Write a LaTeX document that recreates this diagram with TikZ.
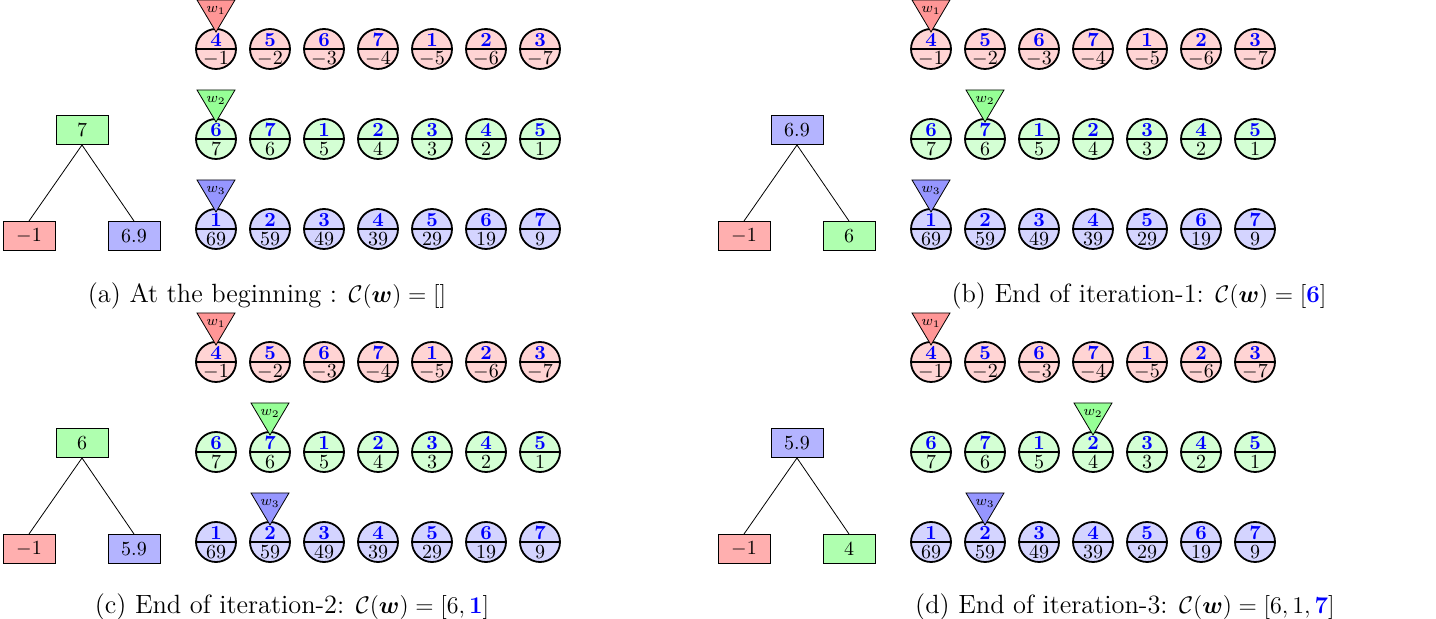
\documentclass[tikz,border=0pt]{standalone}
\usepackage{amsmath,bm}
\definecolor{rT}{RGB}{255,150,150}\definecolor{rC}{RGB}{255,212,212}\definecolor{rB}{RGB}{255,175,175}
\definecolor{gT}{RGB}{150,255,150}\definecolor{gC}{RGB}{212,255,212}\definecolor{gB}{RGB}{175,255,175}
\definecolor{bT}{RGB}{150,150,255}\definecolor{bC}{RGB}{212,212,255}\definecolor{bB}{RGB}{180,180,255}
\tikzset{
 ball/.style={circle,draw,line width=0.9pt,minimum size=20pt,inner sep=0pt},
 topnum/.style={font=\bfseries\fontsize{10}{10}\selectfont,text=blue,inner sep=0pt},
 botnum/.style={font=\fontsize{10}{10}\selectfont,inner sep=0pt},
 tbox/.style={draw,line width=0.5pt,minimum width=26pt,minimum height=14.5pt,inner sep=0pt,font=\normalsize},
 tri/.style={draw,line width=0.4pt},
 captext/.style={font=\fontsize{13.2}{15}\selectfont,inner sep=0pt}
}
\newcommand{\myrow}[5]{% panel, row, y, color, list top/bottom
 \foreach \t/\b [count=\k from 0] in {#5}{
  \node[ball,fill=#4] (c#1#2\k) at (216+54*\k,#3) {};
  \draw[line width=0.9pt] (c#1#2\k.west) -- (c#1#2\k.east);
  \node[topnum] at (216+54*\k,#3-9) {\t};
  \node[botnum] at (216+54*\k,#3+10) {$\b$};
 }}
\newcommand{\mytri}[4]{% col, rowy, color, label
 \draw[tri,fill=#3] (216+54*#1-19,#2-49) -- (216+54*#1+19,#2-49) -- (216+54*#1,#2-17) -- cycle;
 \node[inner sep=0pt,font=\scriptsize] at (216+54*#1,#2-39) {$#4$};}
\newcommand{\mypanel}[8]{% name, xoff, yoff, w2col, w3col, root, rootcol, right col
 \begin{scope}[shift={(#2,#3)}]
  \myrow{#1}{a}{49}{rC}{4/-1,5/-2,6/-3,7/-4,1/-5,2/-6,3/-7}
  \myrow{#1}{b}{139}{gC}{6/7,7/6,1/5,2/4,3/3,4/2,5/1}
  \myrow{#1}{c}{229}{bC}{1/69,2/59,3/49,4/39,5/29,6/19,7/9}
  \mytri{0}{49}{rT}{w_1}
  \mytri{#4}{139}{gT}{w_2}
  \mytri{#5}{229}{bT}{w_3}
  \node[tbox,fill=#7] (r#1) at (82,130) {#6};
  \node[tbox,fill=rB] (l#1) at (29,236) {$-1$};
  \node[tbox,fill=#8] (s#1) at (134,236) {\rtext};
  \draw[line width=0.4pt] (r#1.south) -- (l#1.north);
  \draw[line width=0.4pt] (r#1.south) -- (s#1.north);
 \end{scope}}
\begin{document}
\begin{tikzpicture}[x=0.5pt,y=-0.5pt]
\useasboundingbox (0,0) rectangle (1436,619);
\def\rtext{6.9}\mypanel{A}{0}{0}{0}{0}{7}{gB}{bB}
\def\rtext{6}\mypanel{B}{715}{0}{1}{0}{6.9}{bB}{gB}
\def\rtext{5.9}\mypanel{C}{0}{313}{1}{1}{6}{gB}{bB}
\def\rtext{4}\mypanel{D}{715}{313}{3}{1}{5.9}{bB}{gB}
\node[captext] (capA) at (267,296) {(a) At the beginning : $\mathcal{C}(\bm{w})=[]$};
\node[captext] (capB) at (1139,296) {(b) End of iteration-1: $\mathcal{C}(\bm{w})=[\textcolor{blue}{\mathbf{6}}]$};
\node[captext] (capC) at (292,607) {(c) End of iteration-2: $\mathcal{C}(\bm{w})=[6,\textcolor{blue}{\mathbf{1}}]$};
\node[captext] (capD) at (1125,607) {(d) End of iteration-3: $\mathcal{C}(\bm{w})=[6,1,\textcolor{blue}{\mathbf{7}}]$};
\end{tikzpicture}
\end{document}
